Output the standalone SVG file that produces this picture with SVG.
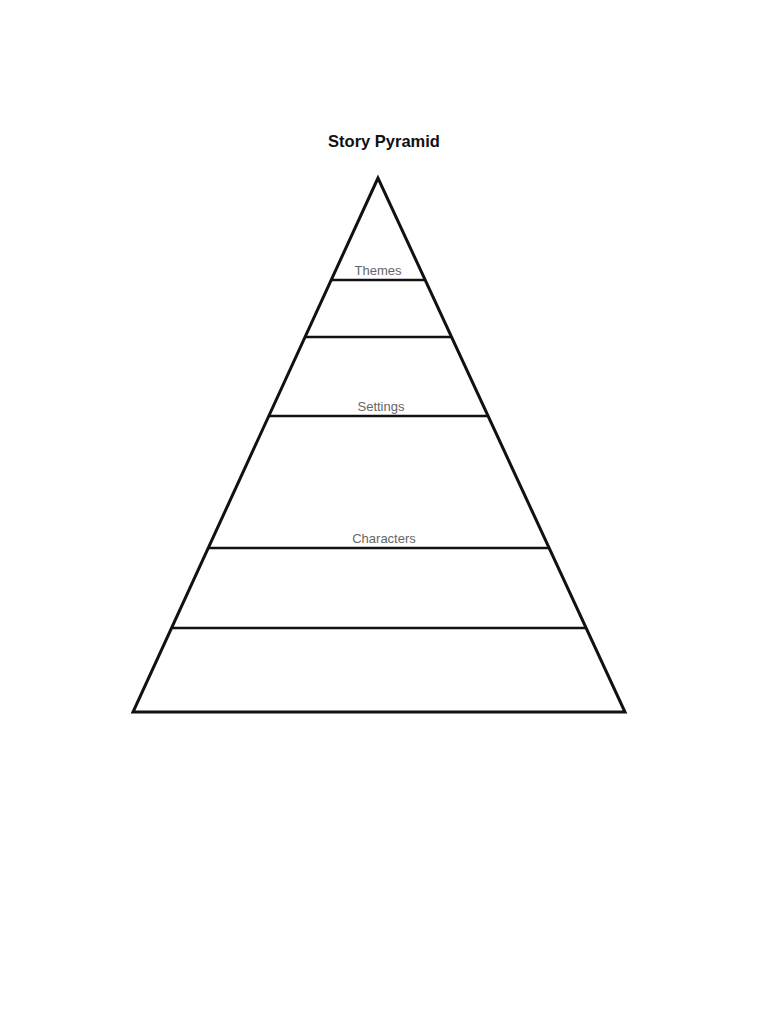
<svg xmlns="http://www.w3.org/2000/svg" width="768" height="1024" viewBox="0 0 768 1024">
<style>
.edge{stroke:#111;stroke-width:3;fill:none;stroke-linejoin:miter}
.tier{stroke:#111;stroke-width:2.6}
.lbl{font-family:"Liberation Sans",Arial,sans-serif;font-size:13px;fill:#666;text-anchor:middle}
.title{font-family:"Liberation Sans",Arial,sans-serif;font-size:16.5px;font-weight:bold;fill:#111;text-anchor:middle}
</style>
<rect width="768" height="1024" fill="#fff"/>
<text class="title" x="384" y="147">Story Pyramid</text>
<g id="pyramid">
<polygon class="edge" points="378,178 133,712 625,712"/>
</g>
<g id="connectors">
<line class="tier" x1="331" y1="280" x2="425" y2="280"/>
<line class="tier" x1="305" y1="337" x2="451" y2="337"/>
<line class="tier" x1="269" y1="416" x2="488" y2="416"/>
<line class="tier" x1="208" y1="548" x2="549" y2="548"/>
<line class="tier" x1="172" y1="628" x2="585" y2="628"/>
</g>
<g id="themes"><text class="lbl" x="378" y="275">Themes</text></g>
<g id="settings"><text class="lbl" x="381" y="411">Settings</text></g>
<g id="characters"><text class="lbl" x="384" y="543">Characters</text></g>
</svg>
